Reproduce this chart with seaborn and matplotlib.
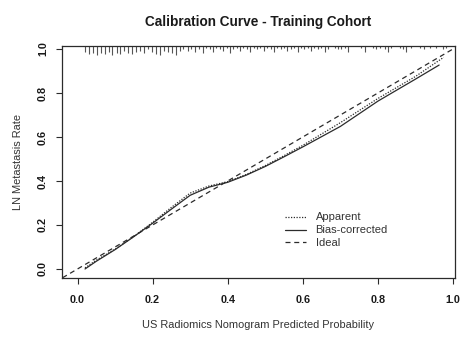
import numpy as np
import pandas as pd
import matplotlib
matplotlib.use("Agg")
import matplotlib.pyplot as plt
import seaborn as sns

# ---- data ----
pred_x = [0.02, 0.05, 0.10, 0.15, 0.20, 0.25, 0.30, 0.35, 0.40, 0.45, 0.50, 0.55, 0.60, 0.70, 0.80, 0.90]
apparent = [0.005, 0.040, 0.090, 0.148, 0.212, 0.280, 0.345, 0.377, 0.397, 0.430, 0.470, 0.515, 0.562, 0.665, 0.775, 0.875]
apparent_end = (0.975, 0.962)
bias_corrected = [0.000, 0.035, 0.088, 0.147, 0.208, 0.272, 0.335, 0.372, 0.394, 0.427, 0.466, 0.510, 0.555, 0.648, 0.763, 0.863]
bias_end = (0.963, 0.927)
ideal_x = [-0.06, 1.06]

rug_x = [0.020, 0.030, 0.041, 0.051, 0.062, 0.072, 0.083, 0.093, 0.104, 0.114, 0.125, 0.135, 0.146, 0.156,
         0.167, 0.177, 0.188, 0.198, 0.209, 0.219, 0.230, 0.240, 0.251, 0.261, 0.272, 0.282, 0.293, 0.303,
         0.314, 0.324,
         0.334, 0.343, 0.352, 0.361, 0.370, 0.379, 0.388, 0.397, 0.406, 0.415, 0.424, 0.433, 0.442, 0.451,
         0.460, 0.469, 0.478, 0.487, 0.496, 0.505, 0.514, 0.523, 0.532, 0.541, 0.550, 0.559, 0.568, 0.577,
         0.586, 0.595, 0.604, 0.613, 0.622, 0.631, 0.640, 0.649, 0.658, 0.667,
         0.685, 0.694, 0.703, 0.712, 0.721, 0.756, 0.765, 0.787, 0.796, 0.805, 0.818, 0.827, 0.836, 0.858,
         0.867, 0.876, 0.889, 0.911, 0.924, 0.938, 0.955, 0.973, 0.982]
rug_counts = [5, 7, 6, 8, 6, 7, 5, 8, 6, 7, 4, 6, 7, 5, 4, 6, 3, 5, 7, 8, 4, 5, 6, 8, 4, 3, 4, 3, 5, 3,
              6, 2, 3, 5, 2, 3, 4, 2, 6, 3, 2, 4, 2, 3, 5, 2, 3, 2, 4, 2, 3, 5, 2, 3, 2, 4, 3, 2, 5, 2,
              3, 2, 4, 2, 3, 2, 5, 3,
              2, 3, 3, 2, 5, 2, 5, 2, 3, 2, 3, 5, 2, 2, 3, 5, 2, 2, 3, 2, 2, 3, 2]

x_ticks = [0.0, 0.2, 0.4, 0.6, 0.8, 1.0]
y_ticks = [0.0, 0.2, 0.4, 0.6, 0.8, 1.0]
title = "Calibration Curve - Training Cohort"
xlabel = "US Radiomics Nomogram Predicted Probability"
ylabel = "LN Metastasis Rate"

# ---- style ----
sns.set_style("white")
plt.rcParams["font.family"] = ["Liberation Sans", "DejaVu Sans"]

ink = "#2b2b2b"
fig = plt.figure(figsize=(4.74, 3.48), dpi=100)
ax = fig.add_axes([62 / 474, 1 - 278 / 348, (455 - 62) / 474, (278 - 46) / 348])

xlim = (-0.0413, 1.0053)
ylim = (-0.041, 1.0136)

df_app = pd.DataFrame({"x": pred_x + [apparent_end[0]], "y": apparent + [apparent_end[1]]})
df_bias = pd.DataFrame({"x": pred_x + [bias_end[0]], "y": bias_corrected + [bias_end[1]]})
df_ideal = pd.DataFrame({"x": ideal_x, "y": ideal_x})

sns.lineplot(data=df_app, x="x", y="y", ax=ax, color=ink, lw=0.9, linestyle=(0, (1, 1.2)),
             label="Apparent", sort=True)
sns.lineplot(data=df_bias, x="x", y="y", ax=ax, color=ink, lw=0.9, linestyle="-",
             label="Bias-corrected", sort=True)
sns.lineplot(data=df_ideal, x="x", y="y", ax=ax, color=ink, lw=0.9, linestyle=(0, (4, 3)),
             label="Ideal", sort=True)

# rug of predicted probabilities hanging from the top
rug_len = np.array(rug_counts) / 195.0
ax.vlines(rug_x, ylim[1] - rug_len, ylim[1], color="#555555", lw=0.8)

ax.set_xlim(*xlim)
ax.set_ylim(*ylim)
ax.set_xticks(x_ticks)
ax.set_yticks(y_ticks)
ax.set_xticklabels([f"{v:.1f}" for v in x_ticks], fontweight="bold", fontsize=7.8)
ax.set_yticklabels([f"{v:.1f}" for v in y_ticks], fontweight="bold", fontsize=7.8,
                   rotation=90, va="center")
ax.tick_params(axis="both", direction="out", length=4, width=0.8, color=ink, pad=8,
               labelcolor="#1a1a1a", bottom=True, left=True)
ax.tick_params(axis="y", pad=6)
for s in ax.spines.values():
    s.set_color(ink)
    s.set_linewidth(0.9)

ax.set_xlabel(xlabel, fontsize=7.9, color="#333333", labelpad=11)
ax.set_ylabel(ylabel, fontsize=7.9, color="#333333", labelpad=11)
fig.text(258 / 474, 1 - 22 / 348, title, ha="center", va="center", fontsize=9.8,
         fontweight="bold", color="#1a1a1a")

leg = ax.legend(loc="upper left", bbox_to_anchor=(285 / 474, 1 - 212.5 / 348),
                bbox_transform=fig.transFigure, frameon=False, fontsize=8.0,
                handlelength=1.9, handletextpad=0.85, labelspacing=0.26, borderpad=0,
                borderaxespad=0)
for t in leg.get_texts():
    t.set_color("#333333")

fig.savefig("out.png", dpi=100)
